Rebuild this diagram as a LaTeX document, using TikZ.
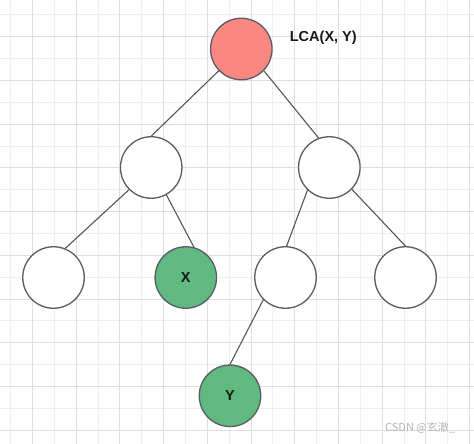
\documentclass[tikz,border=0pt]{standalone}
\usepackage{fontspec}
\setmainfont{Liberation Sans}
\newfontfamily\cjkfont{Noto Sans CJK SC}
\definecolor{gridminor}{HTML}{EEEEEE}
\definecolor{gridmajor}{HTML}{DFDFDF}
\definecolor{nodestroke}{HTML}{5A5A68}
\definecolor{edgecol}{HTML}{555555}
\definecolor{rootfill}{HTML}{FC8680}
\definecolor{greenfill}{HTML}{60B97E}
\definecolor{wmark}{HTML}{B4B4B4}
\tikzset{
  tn/.style={circle, draw=nodestroke, line width=1.3bp, minimum size=61.5bp,
    inner sep=0pt, fill=white, text=black!90,
    font=\bfseries\fontsize{14.5bp}{16bp}\selectfont},
  rootnode/.style={tn, fill=rootfill},
  greennode/.style={tn, fill=greenfill},
  edgeline/.style={draw=edgecol, line width=1.1bp},
  gminor/.style={draw=gridminor, line width=1bp},
  gmajor/.style={draw=gridmajor, line width=1bp},
  lbl/.style={font=\bfseries\fontsize{14.5bp}{16bp}\selectfont, text=black!90, inner sep=0pt},
  wm/.style={font=\cjkfont\fontsize{11bp}{13bp}\selectfont, text=wmark, inner sep=0pt}
}
\begin{document}
\begin{tikzpicture}[x=1bp,y=-1bp]
\useasboundingbox[fill=white] (0,0) rectangle (474,444);
% grid
\foreach \i in {0,2,...,20} {\pgfmathsetmacro\xx{10.7+21.85*\i}\draw[gminor] (\xx,0) -- (\xx,444);}
\foreach \i in {0,2,...,18} {\pgfmathsetmacro\yy{15+21.85*\i}\draw[gminor] (0,\yy) -- (474,\yy);}
\foreach \i in {1,3,...,21} {\pgfmathsetmacro\xx{10.7+21.85*\i}\draw[gmajor] (\xx,0) -- (\xx,444);}
\foreach \i in {1,3,...,19} {\pgfmathsetmacro\yy{15+21.85*\i}\draw[gmajor] (0,\yy) -- (474,\yy);}
% nodes
\node[rootnode] (root) at (241.3,49) {};
\node[lbl] (lca) at (323.3,37.5) {LCA(X, Y)};
\node[tn] (c1) at (151.2,167.5) {};
\node[tn] (c2) at (329.3,167.5) {};
\node[tn] (l1) at (53.5,277.5) {};
\node[greennode] (nx) at (185.8,277.5) {X};
\node[tn] (l3) at (285.5,277.5) {};
\node[tn] (l4) at (405.5,277.5) {};
\node[greennode] (ny) at (230,395.8) {Y};
% edges
\draw[edgeline] (root.224) -- (c1.north);
\draw[edgeline] (root.-44) -- (c2.110);
\draw[edgeline] (c1.225) -- (l1.68);
\draw[edgeline] (c1.-61.5) -- (nx.75);
\draw[edgeline] (c2.226) -- (l3.88);
\draw[edgeline] (c2.-44) -- (l4.north);
\draw[edgeline] (l3.225) -- (ny.north);
% watermark
\node[wm, anchor=west] (wmk) at (385,428) {CSDN @玄澈\_};
\end{tikzpicture}
\end{document}
